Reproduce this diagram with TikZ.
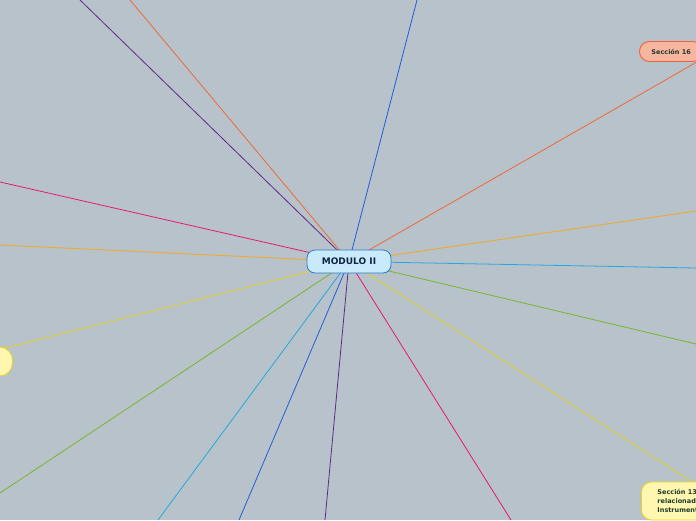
\documentclass[tikz,border=0pt]{standalone}
\usepackage{fontspec}
\setmainfont{DejaVu Sans}
\usetikzlibrary{positioning}
\pgfdeclarelayer{canvas}
\pgfdeclarelayer{spokes}
\pgfsetlayers{canvas,spokes,main}

\definecolor{bgcol}{HTML}{B7C2CA}
\definecolor{modfill}{HTML}{C9EAFB}
\definecolor{modline}{HTML}{2A7BC8}
\definecolor{modtext}{HTML}{0E2446}
\definecolor{salfill}{HTML}{F8B5A0}
\definecolor{salline}{HTML}{E8643C}
\definecolor{yelfill}{HTML}{FFF6B0}
\definecolor{yelline}{HTML}{E6D22E}
\definecolor{subtext}{HTML}{1F3A2C}
\definecolor{cpurple}{HTML}{5E2A84}
\definecolor{corange}{HTML}{EE6A35}
\definecolor{cblue}{HTML}{1F5FD6}
\definecolor{camber}{HTML}{F2A91E}
\definecolor{ccyan}{HTML}{25A8E0}
\definecolor{cgreen}{HTML}{7AB52C}
\definecolor{cyellow}{HTML}{E3D32A}
\definecolor{cpink}{HTML}{E8186E}

\tikzset{
	topic/.style={draw=modline, fill=modfill, line width=0.8pt, rounded corners=8pt,
		minimum width=84pt, minimum height=23pt, inner sep=0pt, text=modtext,
		font=\bfseries\fontsize{9}{10}\selectfont},
	subtopic/.style={line width=0.9pt, rounded corners=10pt, text=subtext, align=left,
		font=\bfseries\fontsize{6.5}{8.8}\selectfont},
	spoke/.style={line width=0.8pt}
}
%one spoke from the centre out to an end point
\newcommand{\spoke}[2]{\draw[spoke,#1] (mod.center) -- (#2);}

\begin{document}
\begin{tikzpicture}[x=1pt,y=-1pt]
	\useasboundingbox (0,0) rectangle (696,520);
	\begin{pgfonlayer}{canvas}
		\fill[bgcol] (0,0) rectangle (696,520);
	\end{pgfonlayer}
	\clip (0,0) rectangle (696,520);

	%central topic and the sub topics that reach into the frame
	\node[topic] (mod) at (349,261.5) {MODULO II};
	\node[subtopic, draw=salline, fill=salfill, anchor=west, minimum height=20pt,
		inner xsep=12pt, inner ysep=0pt] (s16) at (639,51.5) {Sección 16};
	\node[subtopic, draw=yelline, fill=yelfill, anchor=north west, minimum height=38pt,
		inner xsep=16pt, inner ysep=4pt] (s13) at (641,481.5)
		{Sección 13:\\relacionadas\\Instrumentos};
	\node[subtopic, draw=yelline, fill=yelfill, anchor=east, minimum width=90pt,
		minimum height=29pt, rounded corners=13pt] (lft) at (13,361.5) {};

	%free ends of the spokes
	\coordinate (t1) at (80,0);     \coordinate (t2) at (130,0);
	\coordinate (t3) at (417,0);    \coordinate (e16) at (716,51);
	\coordinate (r1) at (696,211);  \coordinate (r2) at (696,268);
	\coordinate (r3) at (696,344);  \coordinate (e13) at (697,485);
	\coordinate (b1) at (511,520);  \coordinate (b2) at (325,520);
	\coordinate (b3) at (239,520);  \coordinate (b4) at (158,520);
	\coordinate (l1) at (0,493);    \coordinate (el) at (5,348);
	\coordinate (l2) at (0,245);    \coordinate (l3) at (0,182);

	\begin{pgfonlayer}{spokes}
		%top
		\spoke{cpurple}{t1}		\spoke{corange}{t2}
		\spoke{cblue}{t3}		\spoke{corange}{e16}
		%right
		\spoke{camber}{r1}		\spoke{ccyan}{r2}
		\spoke{cgreen}{r3}		\spoke{cyellow}{e13}
		%bottom
		\spoke{cpink}{b1}		\spoke{cpurple}{b2}
		\spoke{cblue}{b3}		\spoke{ccyan}{b4}
		%left
		\spoke{cgreen}{l1}		\spoke{cyellow}{el}
		\spoke{camber}{l2}		\spoke{cpink}{l3}
	\end{pgfonlayer}
\end{tikzpicture}
\end{document}
